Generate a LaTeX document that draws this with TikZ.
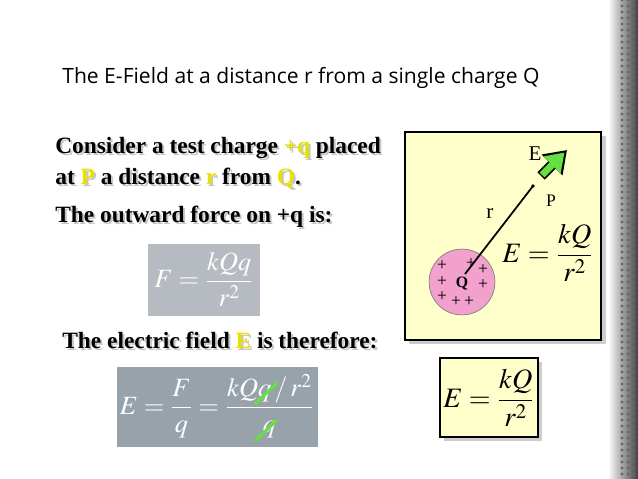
\documentclass[tikz,border=0pt]{standalone}
\usepackage{amsmath}
\usepackage{mathptmx}
\usepackage{fontspec}
\setmainfont{Liberation Serif}
\newfontfamily\titlefont{Open Sans}
\usetikzlibrary{arrows.meta}
\definecolor{yel}{HTML}{FFFFCC}
\definecolor{fbox1}{HTML}{B5BBC1}
\definecolor{fbox2}{HTML}{98A2AA}
\definecolor{pinkc}{HTML}{F2A0CC}
\definecolor{hl}{HTML}{E8E000}
\definecolor{grn}{HTML}{66E040}
\begin{document}
\begin{tikzpicture}[x=0.02cm,y=-0.02cm,
  body/.style={font=\fontsize{13.3}{15}\selectfont\bfseries,anchor=west,inner sep=0},
  shadowtxt/.style={body,text=gray!45},
  frm/.style={text=white,font=\fontsize{15}{17}\selectfont,inner sep=0},
  eqn/.style={font=\fontsize{16}{18}\selectfont,inner sep=0},
  plus/.style={font=\normalsize,inner sep=0}]
\useasboundingbox (0,0) rectangle (638,478);
\fill[white] (0,0) rectangle (638,478);
% right edge texture
\shade[left color=white,right color=black!75] (608,0) rectangle (638,478);
\foreach \yy in {0,6,...,474}{\foreach \xx in {622,628,634}{\fill[black!60] (\xx,\yy) circle (1.6);}}
% title
\node[font=\titlefont\fontsize{12}{14}\selectfont,anchor=west,inner sep=0] (title) at (62,78) {The E-Field at a distance r from a single charge Q};
% body text with shadows
\node[shadowtxt] at (57,150) {Consider a test charge +q placed};
\node[body] (l1) at (55,148) {Consider a test charge \textcolor{hl}{+q} placed};
\node[shadowtxt] at (57,180) {at P a distance r from Q.};
\node[body] (l2) at (55,178) {at \textcolor{hl}{P} a distance \textcolor{hl}{r} from \textcolor{hl}{Q}.};
\node[shadowtxt] at (57,219) {The outward force on +q is:};
\node[body] (l3) at (55,217) {The outward force on +q is:};
\node[shadowtxt] at (64,342) {The electric field E is therefore:};
\node[body] (l4) at (62,340) {The electric field \textcolor{hl}{E} is therefore:};
% F box
\fill[fbox1] (148,244) rectangle (260,316);
\node[frm] (F) at (204,279) {$F=\dfrac{kQq}{r^2}$};
% E box
\fill[fbox2] (117,367) rectangle (318,447);
\node[frm] (E1) at (217,406) {$E=\dfrac{F}{q}=\dfrac{kQq\,/\,r^2}{q}$};
\draw[grn,line width=1.8pt] (255,404) -- (277,383);
\draw[grn,line width=1.8pt] (255,441) -- (277,420);
% right panel
\fill[gray!40] (409,136) rectangle (606,344);
\draw[fill=yel,line width=1.5pt] (405,132) rectangle (601,340);
\node[circle,fill=pinkc,draw=gray,minimum size=37.5pt,inner sep=0] (Q) at (462,282) {};
\node[font=\bfseries\small,inner sep=0] (Ql) at (462,284) {Q};
\foreach \p in {(442,266),(442,282),(442,297),(456,302),(469,302),(483,285),(483,270),(471,264)}
  \node[plus] at \p {+};
\coordinate (P) at (533,186);
\draw[line width=1pt] (465,274) -- (P);
\fill (P) circle (1.8);
\draw[-{Triangle[width=16,length=12]},line width=6pt,draw=black] (541,176) -- (567,150);
\draw[-{Triangle[width=13,length=10]},line width=4pt,draw=grn,shorten >=1.2] (542,175) -- (566,151);
\node[font=\large] (El) at (535,154) {E};
\node[font=\normalsize] (Pl) at (551,201) {P};
\node[font=\large] (rl) at (490,214) {r};
\node[eqn] (Eq) at (548,253) {$E=\dfrac{kQ}{r^2}$};
% small box
\fill[gray!40] (444,362) rectangle (542,441);
\draw[fill=yel,line width=1.5pt] (440,358) rectangle (538,437);
\node[eqn] (Eq2) at (489,398) {$E=\dfrac{kQ}{r^2}$};
\end{tikzpicture}
\end{document}
